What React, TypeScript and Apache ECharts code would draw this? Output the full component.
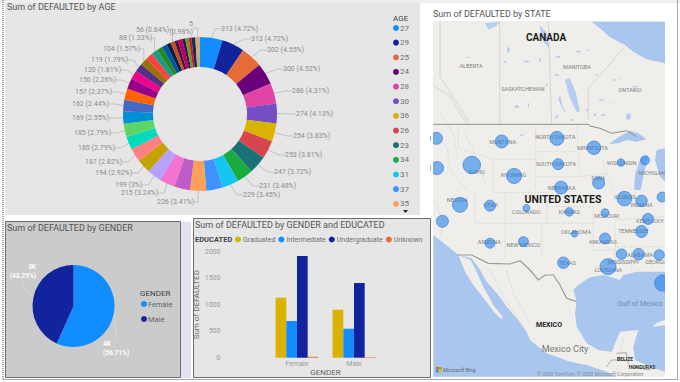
import React, { useEffect, useRef } from "react";
import * as echarts from "echarts";

const FONT = "Roboto, sans-serif";
const TITLE_FONT = "Roboto, sans-serif";

// ---- Sum of DEFAULTED by AGE ----
const ageNames = ["27","29","25","24","28","30","36","26","23","34","31","37","35","33","32","38","39","22","40","41","42","43","44","45","46","47","48","49","50","21","51","52","53","54","55","56","57","58","59","60"];
const ageValues = [313,313,302,300,286,274,254,253,247,231,229,228,226,220,215,199,194,187,185,185,169,162,157,150,120,119,104,100,88,78,72,60,56,48,62,42,48,38,54,65];
const ageColors = ["#118dff","#12239e","#e66c37","#6b007b","#e044a7","#744ec2","#d9b300","#d64550","#197278","#1aab40","#15c6f4","#4092ff","#ffa058","#be5dc9","#f472d0","#b5a1ff","#c4a200","#ff8080","#00dbbc","#5bd667","#0091d5","#4668c5","#ff6300","#99008a","#ec008c","#533285","#99700a","#ff4141","#1f9a85","#25891c","#0057a2","#002050","#c94f0f","#450f54","#b60064","#34124f","#6a9a2c","#d0142c","#182c5c","#c4b07b"];
const ageLegend = ageNames.slice(0, 13);
// where each shown label sits: [left, centre y]
const ageLabelSpots: Record<string, [number, number]> = {
  "27":[221,29],"29":[251,39],"25":[267,50],"24":[283,69],"28":[292,91],"30":[296,114],"36":[293,136],"26":[285,155],"23":[274,172],"34":[259,186],"31":[243,195],
  "35":[157,202],"32":[121,193],"38":[115,185],"39":[95,173],"22":[85,162],"40":[78,148],"41":[74,133],"42":[72,118],"43":[72,104],"44":[75,92],"45":[79,80],"46":[84,70],"47":[91,60],"48":[103,49],"50":[119,38],"53":[136,30],"60":[193,28],
};
const ageLabelOverride: Record<string, string> = { "60": "5\n(0.98%)" };

// ---- Sum of DEFAULTED by GENDER ----
const genderNames = ["Female", "Male"];
const genderValues = [3762, 2871];
const genderColors = ["#118dff", "#12239e"];
const genderShort = ["4K\n(56.71%)", "3K\n(43.29%)"];

// ---- by GENDER and EDUCATED ----
const eduCategories = ["Female", "Male"];
const graduated = [1132, 905];
const intermediate = [692, 547];
const undergraduate = [1920, 1409];
const unknown = [18, 10];

// ---- by STATE ----
const stateNames = ["WA","MT","ND","MN","WI","MI","ID","OR","WY","SD","IA","NE","NV","UT","CO","KS","MO","IL","IN","OH","KY","CA","TN","OK","AR","AZ","NM","MS","AL","GA","TX","LA","FL"];
const stateLon = [-121.4,-110.3,-100.9,-94.6,-90,-85.9,-115.4,-121.3,-108.2,-100.7,-93.8,-100.2,-117.4,-112.3,-106.1,-98.8,-92.7,-89.4,-86.5,-83,-85.4,-120.4,-86.5,-97.9,-92.7,-112.3,-106.6,-89.9,-87,-83.5,-99.8,-92.2,-82.9];
const stateLat = [47.5,47.1,47.5,46.3,44.4,44.7,44.1,43.7,42.7,44.2,41.8,41.2,39,38.9,38.6,38.1,38,39.8,39.5,40,37.2,36.9,35.6,35.3,34.7,34.1,34.3,32.7,32.7,32.6,31.6,31.1,29];
const stateValue = [225,264,306,285,88,127,478,264,352,189,225,264,352,189,77,113,100,329,207,156,189,225,225,66,189,156,156,172,207,172,207,400,400];

const mapProvinces: [string, number, number][] = [["ALBERTA",471,66],["MANITOBA",577,67],["SASKATCHEWAN",523,89],["ONTARIO",630,90]];
const mapStatesTop: [string, number, number][] = [["MONTANA",218,425],["NORTH DAKOTA",376,412],["MINNESOTA",487,443],["WISCONSIN",575,488],["MICHIGAN",665,520],["SOUTH DAKOTA",378,492],["WYOMING",250,526],["IDAHO",140,516],["IOWA",505,535],["NEBRASKA",395,563]];
const mapStatesLow: [string, number, number][] = [["NEVADA",82,30],["UTAH",182,44],["COLORADO",288,67],["KANSAS",418,66],["MISSOURI",530,78],["ILLINOIS",585,20],["INDIANA",635,45],["KENTUCKY",660,92],["TENNESSEE",610,122],["OKLAHOMA",438,127],["ARKANSAS",518,155],["ARIZONA",178,155],["NEW MEXICO",280,165],["TEXAS",412,218],["LOUISIANA",535,240],["MISSISSIPPI",580,217],["ALABAMA",630,196],["GEORGIA",680,217]];

const fmtPct = (p: number) => String(parseFloat(p.toFixed(2)));
const ageTotal = ageValues.reduce((a, b) => a + b, 0);

// helpers mapping crop-space sketch coordinates for the base map only
const T = (p: number[]) => [430 + p[0] / 3, p[1] / 3];
const L = (p: number[]) => [430 + p[0] / 3, 190 + p[1] / 3];
const WATER = "#a9c6ef";
const LAND = "#efeeea";
const poly = (pts: number[][], fill: string, f = T) => ({ type: "polygon", shape: { points: pts.map(f) }, style: { fill }, silent: true });
const line = (pts: number[][], stroke: string, f = T, width = 0.6, dash?: number[]) => ({ type: "polyline", shape: { points: pts.map(f) }, style: { stroke, lineWidth: width, fill: "none", lineDash: dash }, silent: true });
const blob = (cx: number, cy: number, rx: number, ry: number) => ({ type: "ellipse", shape: { cx: 430 + cx / 3, cy: cy / 3, rx: rx / 3, ry: ry / 3 }, style: { fill: "#b4cdf0" }, silent: true });
const txt = (text: string, x: number, y: number, font: string, fill: string, align = "center", z = 1) => ({ type: "text", z, style: { text, x, y, font, fill, align, verticalAlign: "middle" }, silent: true });

function baseGraphics() {
  const els: any[] = [];
  // panels
  els.push({ type: "rect", shape: { x: 5, y: 3, width: 415, height: 212 }, style: { fill: "#e6e6e6" }, silent: true });
  els.push({ type: "rect", shape: { x: 0, y: 0, width: 680, height: 3 }, style: { fill: "#eeeeee" }, silent: true });
  els.push({ type: "rect", shape: { x: 181, y: 222, width: 10, height: 156 }, style: { fill: "#e1e1f2" }, silent: true });
  els.push({ type: "rect", shape: { x: 5.5, y: 221.5, width: 175, height: 156 }, style: { fill: "#cbcbcb", stroke: "#6e6e6e", lineWidth: 1 }, silent: true });
  els.push({ type: "rect", shape: { x: 193.5, y: 218.5, width: 237, height: 159 }, style: { fill: "#e6e6e6", stroke: "#6e6e6e", lineWidth: 1 }, silent: true });
  // map base
  els.push({ type: "rect", shape: { x: 433, y: 21, width: 232, height: 356 }, style: { fill: LAND }, silent: true });
  els.push(poly([[485,65],[705,65],[705,190],[650,178],[610,155],[585,135],[540,112],[510,85]], WATER));
  els.push(poly([[538,432],[560,415],[600,392],[625,400],[650,418],[620,425],[590,420],[565,430]], WATER));
  els.push(poly([[612,570],[616,520],[630,480],[655,465],[650,490],[640,530],[632,570]], WATER));
  els.push(poly([[680,450],[705,445],[705,545],[690,530],[675,480]], WATER));
  els.push(poly([[405,240],[420,235],[438,280],[450,335],[440,335],[418,290]], "#b4cdf0"));
  els.push(poly([[390,285],[398,320],[410,340],[403,335],[385,300]], "#b4cdf0"));
  els.push(poly([[165,70],[210,65],[195,80],[175,88]], "#b4cdf0"));
  els.push(poly([[328,75],[348,95],[358,145],[340,125]], "#b4cdf0"));
  const blobs = [[235,150,4,9],[225,185,5,3],[290,185,8,2.5],[330,180,3,6],[385,170,6,3],[445,155,8,2.5],[475,150,4,2],[380,225,5,3],[260,320,6,4],[295,315,2,7],[350,255,4,2],[380,350,3,6],[425,360,4,3],[500,225,4,2],[515,300,9,2],[595,350,7,10],[615,260,9,2],[555,240,5,2],[520,345,6,3],[495,345,4,4],[550,310,3,1.5],[115,172,6,2],[275,405,7,2.5],[270,265,3,2],[470,330,3,4],[570,235,4,2]];
  blobs.forEach((b) => els.push(blob(b[0], b[1], b[2], b[3])));
  els.push(poly([[10,135],[40,158],[85,195],[125,205],[150,240],[170,275],[205,315],[230,350],[260,385],[290,425],[300,450],[350,490],[420,515],[470,525],[530,545],[560,560],[10,560]], WATER, L));
  els.push(poly([[85,195],[105,245],[130,285],[165,330],[195,370],[215,388],[218,380],[190,345],[160,290],[135,235],[122,210]], LAND, L));
  els.push(poly([[440,335],[430,300],[445,285],[480,262],[520,255],[545,262],[570,270],[580,255],[620,245],[705,245],[705,545],[660,530],[615,510],[610,470],[625,420],[570,425],[545,485],[505,480],[470,460],[440,410],[435,370]], WATER, L));
  els.push(poly([[668,410],[680,398],[705,390],[705,405],[690,408]], LAND, L));
  // terrain and boundaries
  const soft = "#d2d2cf";
  [[[30,65],[30,230],[120,370]],[[0,250],[60,290],[110,370]],[[209,65],[209,373]],[[355,65],[365,373]],[[475,265],[475,360]],[[475,265],[585,140]]].forEach((p) => els.push(line(p, "#c4c4c0")));
  [[[85,373],[85,445],[190,478],[317,478]],[[190,478],[190,570]],[[317,373],[317,570]],[[317,455],[440,455]],[[317,530],[450,530]],[[440,373],[450,530]],[[450,530],[530,520],[550,570]],[[518,480],[530,520]]].forEach((p) => els.push(line(p, "#c6c6c2", T, 0.6, [1.5, 1.5])));
  [[[195,8],[350,8]],[[225,8],[225,208]],[[135,8],[135,100],[225,100]],[[335,105],[335,205]],[[225,100],[490,100]],[[350,8],[350,100]],[[350,50],[490,50]],[[490,50],[490,180]],[[555,90],[705,80]],[[555,170],[705,170]],[[555,110],[555,245]],[[605,170],[605,245]],[[650,170],[670,240]],[[490,180],[555,180]]].forEach((p) => els.push(line(p, "#c6c6c2", L, 0.6, [1.5, 1.5])));
  [[[10,400],[50,440],[60,500]],[[30,340],[70,400],[85,480]],[[100,390],[130,450],[170,560]],[[60,510],[110,570]]].forEach((p) => els.push(line(p, soft, T, 0.5)));
  [[[10,30],[40,90],[30,140]],[[230,240],[250,310],[300,400]],[[175,230],[220,320],[280,410]],[[500,440],[540,480]],[[580,440],[560,540]]].forEach((p) => els.push(line(p, soft, L, 0.5)));
  els.push(line([[10,373],[475,373],[480,378],[510,385],[545,400],[590,392],[620,410]], "#8f8f8f", T, 1));
  els.push(line([[82,195],[125,195],[175,220],[240,222],[270,212],[300,240],[325,270],[345,255],[370,255],[390,285],[410,325],[440,335]], "#999999", L, 1.2));
  els.push(line([[560,490],[590,488],[590,510],[545,510],[530,530]], "#9a9a9a", L, 0.8));
  els.push(line([[590,510],[600,530],[660,540]], "#9a9a9a", L, 0.8));
  // map texts
  mapProvinces.forEach(([t, x, y]) => els.push(txt(t, x, y, `5.5px ${FONT}`, "#808080")));
  mapStatesTop.forEach(([t, x, y]) => els.push(txt(t, 430 + x / 3, y / 3, `5.5px ${FONT}`, "#808080")));
  mapStatesLow.forEach(([t, x, y]) => els.push(txt(t, 430 + x / 3, 190 + y / 3, `5.5px ${FONT}`, "#808080")));
  els.push(txt("CANADA", 546, 37, `bold 10px ${FONT}`, "#1c1c1c"));
  els.push(txt("UNITED STATES", 563, 199, `bold 10.5px ${FONT}`, "#1c1c1c", "center", 5));
  els.push(txt("MEXICO", 549, 325, `bold 7px ${FONT}`, "#1c1c1c"));
  els.push(txt("Mexico City", 565, 349, `9px ${FONT}`, "#777777"));
  els.push(txt("Gulf of Mexico", 640, 304, `7px ${FONT}`, "#6a88b8"));
  els.push(txt("BELIZE", 625, 359, `bold 5px ${FONT}`, "#333333"));
  els.push(txt("HONDURAS", 642, 367, `bold 5px ${FONT}`, "#333333"));
  els.push(txt("© 2023 TomTom, © 2023 Microsoft Corporation", 537, 373.5, `5px ${FONT}`, "#8a8a8a", "left"));
  els.push(txt("Microsoft Bing", 443, 370, `5px ${FONT}`, "#666666", "left"));
  [["#f25022",436,367],["#7fba00",439,367],["#00a4ef",436,370],["#ffb900",439,370]].forEach(([c, x, y]) => els.push({ type: "rect", shape: { x, y, width: 2.6, height: 2.6 }, style: { fill: c }, silent: true }));
  // overlays that clip the bubbles at the map edge
  els.push({ type: "rect", z: 50, shape: { x: 431, y: 21, width: 2, height: 356 }, style: { fill: "#ffffff" }, silent: true });
  els.push({ type: "rect", z: 50, shape: { x: 665, y: 21, width: 11, height: 356 }, style: { fill: "#ffffff" }, silent: true });
  // dropdown marker & dotted frame
  els.push({ type: "polygon", shape: { points: [[403, 210], [408, 210], [405.5, 213]] }, style: { fill: "#222222" }, silent: true });
  const dots = { stroke: "#555555", lineWidth: 1, lineDash: [1, 1] };
  els.push({ type: "polyline", z: 60, shape: { points: [[3, 0], [3, 379.5], [677.5, 379.5], [677.5, 0]] }, style: { ...dots, fill: "none" }, silent: true });
  return els;
}

const ttl = (text: string, left: number, top: number, size = 9, color = "#555555", fontWeight: any = "normal", fontFamily = TITLE_FONT) => ({
  text, left, top, padding: 0, textStyle: { fontFamily, fontSize: size, color, fontWeight },
});

function buildOption() {
  return {
    animation: false,
    backgroundColor: "#ffffff",
    title: [
      ttl("Sum of DEFAULTED by AGE", 7, 2),
      ttl("AGE", 393, 14, 8, "#444444"),
      ttl("Sum of DEFAULTED by GENDER", 7, 223),
      ttl("GENDER", 140, 289, 8, "#444444"),
      ttl("Sum of DEFAULTED by GENDER and EDUCATED", 195, 220),
      ttl("EDUCATED", 195, 235, 7.5, "#444444", "bold"),
      ttl("Sum of DEFAULTED by STATE", 433, 9),
    ],
    legend: [
      { data: ageLegend, left: 393, top: 24, orient: "vertical", itemWidth: 6, itemHeight: 6, itemGap: 6.65, icon: "circle", selectedMode: false, padding: 0,
        textStyle: { fontFamily: FONT, fontSize: 8, color: "#707070", padding: [0, 0, 0, -4] } },
      { data: genderNames, left: 141, top: 300, orient: "vertical", itemWidth: 6, itemHeight: 6, itemGap: 7, icon: "circle", selectedMode: false, padding: 0,
        textStyle: { fontFamily: FONT, fontSize: 7.5, color: "#666666", padding: [0, 0, 0, -4] } },
      { left: 235, top: 236, orient: "horizontal", itemWidth: 6, itemHeight: 6, itemGap: 3, icon: "circle", selectedMode: false, padding: 0,
        data: ["Graduated", "Intermediate", "Undergraduate", "Unknown"],
        textStyle: { fontFamily: FONT, fontSize: 7, color: "#707070", padding: [0, 0, 0, -3] } },
    ],
    grid: [
      { left: 268.5, top: 251.7, width: 114, height: 106 },
      { left: 433, top: 21, width: 232, height: 356 },
    ],
    xAxis: [
      { gridIndex: 0, type: "category", data: eduCategories, name: "GENDER", nameLocation: "middle", nameGap: 11,
        nameTextStyle: { fontFamily: FONT, fontSize: 8, color: "#666666" },
        axisLine: { show: false }, axisTick: { show: false },
        axisLabel: { fontFamily: FONT, fontSize: 7, color: "#999999", margin: 3 } },
      { gridIndex: 1, type: "value", min: -122, max: -82.5, show: false },
    ],
    yAxis: [
      { gridIndex: 0, type: "value", min: 0, max: 2000, interval: 500, offset: 48,
        name: "Sum of DEFAULTED", nameLocation: "middle", nameGap: 17,
        nameTextStyle: { fontFamily: FONT, fontSize: 8, color: "#666666" },
        splitLine: { show: false }, axisLine: { show: false }, axisTick: { show: false },
        axisLabel: { fontFamily: FONT, fontSize: 7, color: "#999999", margin: 0, formatter: (v: number) => String(v) } },
      { gridIndex: 1, type: "value", min: 17, max: 62.5, show: false },
    ],
    graphic: { elements: baseGraphics() },
    series: [
      {
        type: "pie", name: "AGE", center: [200, 114], radius: [47, 77], startAngle: 90, clockwise: true,
        avoidLabelOverlap: false, percentPrecision: 4,
        itemStyle: { borderWidth: 0 },
        data: ageNames.map((n, i) => ({
          name: n, value: ageValues[i], itemStyle: { color: ageColors[i] },
          label: { show: !!ageLabelSpots[n] }, labelLine: { show: !!ageLabelSpots[n] },
        })),
        label: {
          fontFamily: FONT, fontSize: 7, color: "#8c8c8c", lineHeight: 8,
          formatter: (p: any) => ageLabelOverride[p.name] ?? `${p.value} (${fmtPct((p.value / ageTotal) * 100)}%)`,
        },
        labelLine: { length: 6, length2: 6, lineStyle: { color: "#b9b9b9", width: 0.8 } },
        labelLayout: (p: any) => {
          const name = ageNames[p.dataIndex];
          const s = ageLabelSpots[name];
          if (!s) return {};
          return { x: s[0], y: s[1], align: ageLabelOverride[name] ? "right" : "left", verticalAlign: "middle" };
        },
      },
      {
        type: "pie", name: "GENDER", center: [73.5, 306], radius: [0, 41], startAngle: 90, clockwise: true,
        avoidLabelOverlap: false,
        itemStyle: { borderWidth: 0 },
        data: genderNames.map((n, i) => ({ name: n, value: genderValues[i], itemStyle: { color: genderColors[i] } })),
        label: {
          fontFamily: FONT, fontSize: 6.5, color: "#ffffff", lineHeight: 9, fontWeight: "bold",
          formatter: (p: any) => genderShort[p.dataIndex],
        },
        labelLine: { length: 6, length2: 6, lineStyle: { color: "#e2e2e2", width: 0.6 } },
        labelLayout: (p: any) => (p.dataIndex === 0 ? { x: 103, y: 348, align: "left", verticalAlign: "middle" } : { x: 36, y: 271, align: "right", verticalAlign: "middle" }),
      },
      ...[
        ["Graduated", graduated, "#d9b300"],
        ["Intermediate", intermediate, "#118dff"],
        ["Undergraduate", undergraduate, "#12239e"],
        ["Unknown", unknown, "#e66c37"],
      ].map(([name, data, color]) => ({
        type: "bar", name, data, xAxisIndex: 0, yAxisIndex: 0, barWidth: 10.7, barGap: 0, itemStyle: { color },
      })),
      {
        type: "scatter", name: "STATE", xAxisIndex: 1, yAxisIndex: 1, z: 3, clip: false,
        data: stateNames.map((n, i) => ({ name: n, value: [stateLon[i], stateLat[i], stateValue[i]] })),
        symbolSize: (v: number[]) => 0.8 * Math.sqrt(v[2]),
        itemStyle: { color: "rgba(32,128,235,0.72)", borderColor: "#2a78dc", borderWidth: 0.8 },
      },
    ],
  };
}

export default function App() {
  const ref = useRef<HTMLDivElement>(null);
  useEffect(() => {
    document.body.style.margin = "0";
    const chart = echarts.init(ref.current!, undefined, { renderer: "svg" });
    chart.setOption(buildOption() as any);
    return () => chart.dispose();
  }, []);
  return <div ref={ref} style={{ width: 680, height: 382 }} />;
}
